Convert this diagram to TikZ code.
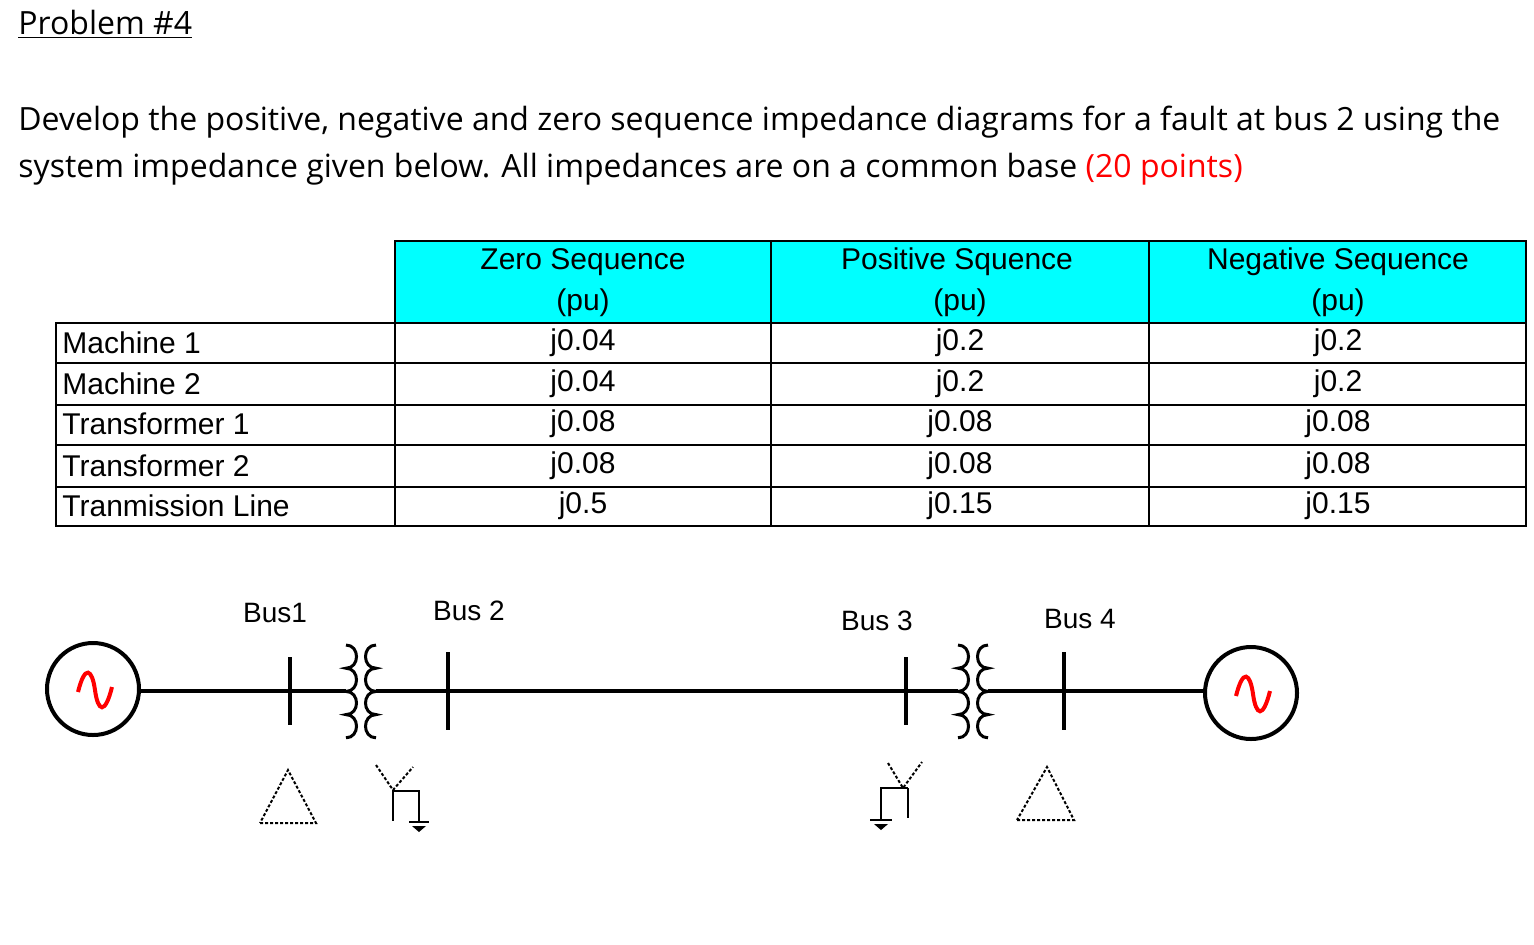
\documentclass[tikz,border=0pt]{standalone}
\usepackage{fontspec}
\setmainfont{Open Sans}
\newfontfamily\tabfont{Liberation Sans}
\definecolor{hdr}{RGB}{0,255,255}
\begin{document}
\begin{tikzpicture}[x=0.5pt,y=-0.5pt,
  txt/.style={anchor=base west,inner sep=0,font=\fontsize{16}{19}\selectfont},
  cell/.style={inner sep=0,font=\tabfont\fontsize{15}{17}\selectfont},
  buslbl/.style={font=\tabfont\fontsize{14}{16}\selectfont},
  gen/.style={draw,circle,line width=2pt,minimum size=46pt,inner sep=0},
  wire/.style={line width=2pt},
  coil/.style={line width=1.5pt},
  thin/.style={line width=1pt},
  dot/.style={line width=1pt,dash pattern=on 1.5pt off 1pt}]
\useasboundingbox (0,0) rectangle (1534,944);
\node[txt] (title) at (18,34) {\underline{Problem \#4}};
\node[txt] (p1) at (18,130) {Develop the positive, negative and zero sequence impedance diagrams for a fault at bus 2 using the};
\node[txt] (p2) at (18,177) {system impedance given below. All impedances are on a common base \textcolor{red}{(20 points)}};
% table
\fill[hdr] (395,241) rectangle (1526,323);
\draw[line width=1.2pt] (395,241) rectangle (1526,526);
\draw[line width=1.2pt] (56,323) rectangle (1526,526);
\foreach \x in {771,1149} \draw[line width=1.2pt] (\x,241) -- (\x,526);
\foreach \y in {363,405,445,487} \draw[line width=1.2pt] (56,\y) -- (1526,\y);
\node[cell] (h1) at (583,262) {Zero Sequence};
\node[cell] (h2) at (957,262) {Positive Squence};
\node[cell] (h3) at (1338,262) {Negative Sequence};
\foreach \x in {583,960,1338} \node[cell] at (\x,303) {(pu)};
\foreach \n/\y in {Machine 1/343,Machine 2/384,Transformer 1/424,Transformer 2/466,Tranmission Line/506}
  \node[cell,anchor=west] at (62,\y) {\n};
\foreach \a/\b/\c/\y in {j0.04/j0.2/j0.2/343,j0.04/j0.2/j0.2/384,j0.08/j0.08/j0.08/424,j0.08/j0.08/j0.08/466,j0.5/j0.15/j0.15/506}{
  \node[cell] at (583,\y) {\a};
  \node[cell] at (960,\y) {\b};
  \node[cell] at (1338,\y) {\c};}
% one-line diagram
\node[gen] (g1) at (93,689) {};
\node[gen] (g2) at (1251,693) {};
\draw[red,line width=2pt] (78,692) .. controls (85,664) and (92,669) .. (95,690) .. controls (98,712) and (105,715) .. (112,687);
\draw[red,line width=2pt] (1236,696) .. controls (1243,668) and (1250,673) .. (1253,694) .. controls (1256,716) and (1263,719) .. (1270,691);
\coordinate (lb) at (346,691);
\coordinate (lc) at (376,691); \coordinate (ld) at (958,691);
\coordinate (le) at (988,691);
\draw[wire] (g1.east|-lb) -- (lb);
\draw[wire] (lc) -- (ld);
\draw[wire] (le) -- (g2.west|-le);
\draw[wire] (290,657) -- (290,725);
\draw[wire] (448,652) -- (448,730);
\draw[wire] (906,657) -- (906,725);
\draw[wire] (1064,652) -- (1064,730);
% coils: left coil bulges right, right coil bulges left
\foreach \cx in {346,958}{
  \draw[coil] (\cx,645)
    \foreach \k in {0,...,3}{ .. controls +(14,0) and +(14,0) .. ++(0,23.2) } -- ++(0,0);}
\foreach \cx in {376,988}{
  \draw[coil] (\cx,645)
    \foreach \k in {0,...,3}{ .. controls +(-14,0) and +(-14,0) .. ++(0,23.2) } -- ++(0,0);}
\node[buslbl] (b1) at (275,613) {Bus1};
\node[buslbl] (b2) at (469,611) {Bus 2};
\node[buslbl] (b3) at (877,621) {Bus 3};
\node[buslbl] (b4) at (1080,619) {Bus 4};
% deltas
\draw[dot] (260,823) -- (316,823) -- (288,770) -- cycle;
\draw[dot] (1017,820) -- (1074,820) -- (1047,767) -- cycle;
% wye grounded 1
\draw[dot] (376,765) -- (393,790) -- (413,767);
\draw[thin] (393,790) -- (393,821);
\draw[thin] (393,791) -- (419,791) -- (419,822);
\draw[thin] (409,822) -- (429,822); \fill (412,826) -- (426,826) -- (419,832) -- cycle;
% wye grounded 2
\draw[dot] (888,763) -- (903,788) -- (922,762);
\draw[thin] (908,788) -- (908,818);
\draw[thin] (908,788) -- (881,788) -- (881,820);
\draw[thin] (870,820) -- (892,820); \fill (874,824) -- (888,824) -- (881,830) -- cycle;
\end{tikzpicture}
\end{document}
